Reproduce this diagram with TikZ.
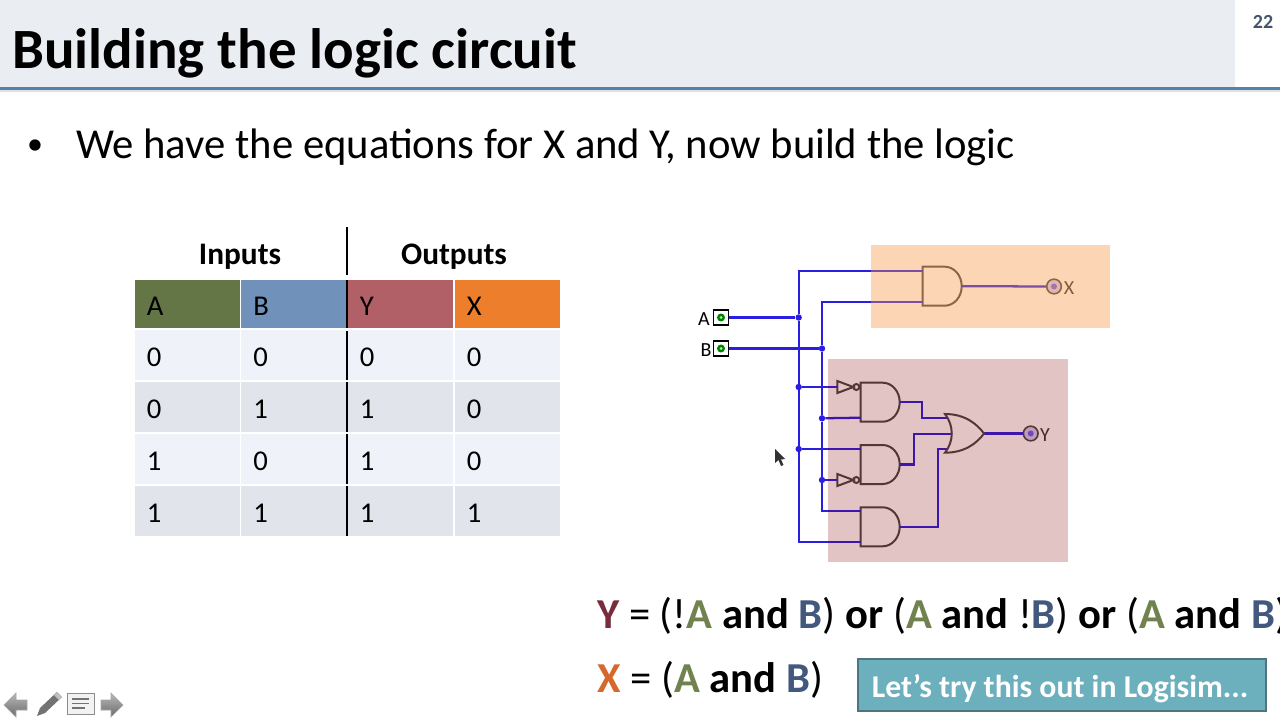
\documentclass[tikz,border=0pt]{standalone}
\usepackage{fontspec}
\setmainfont{Carlito}
\usetikzlibrary{calc}
\definecolor{bandcol}{RGB}{234,238,243}
\definecolor{rulecol}{RGB}{84,130,172}
\definecolor{numcol}{RGB}{68,84,106}
\definecolor{rowa}{RGB}{239,243,249}
\definecolor{rowb}{RGB}{225,228,234}
\definecolor{acol}{RGB}{100,117,70}
\definecolor{bcol}{RGB}{112,146,186}
\definecolor{ycol}{RGB}{178,96,104}
\definecolor{xcol}{RGB}{236,126,44}
\definecolor{eqa}{RGB}{112,130,78}
\definecolor{eqb}{RGB}{66,88,124}
\definecolor{eqy}{RGB}{120,44,60}
\definecolor{eqx}{RGB}{214,104,44}
\definecolor{wirecol}{RGB}{42,30,226}
\definecolor{btncol}{RGB}{108,176,190}
\definecolor{btnedge}{RGB}{80,116,126}
\definecolor{shadeX}{RGB}{247,150,70}
\tikzset{
  cell/.style={anchor=west,text width=60.75pt,inner xsep=9pt,inner ysep=0pt,minimum height=37.5pt,text height=19pt,text depth=2pt,font=\fontsize{21.5}{25}\selectfont},
  headcell/.style={cell,minimum height=36pt},
  headtext/.style={font=\fontsize{23.5}{28}\selectfont\bfseries},
  eqtext/.style={anchor=base west,inner sep=0pt,font=\fontsize{32}{36}\selectfont},
  wire/.style={draw=wirecol,line width=1.7pt},
  gateline/.style={draw=black!72,line width=1.5pt},
  joint/.style={circle,fill=wirecol,inner sep=0pt,minimum size=4.8pt},
  pinbox/.style={draw=black,fill=white,line width=1.1pt,inner sep=0pt,minimum size=11.5pt},
  probe/.style={circle,draw=black!72,fill=wirecol!22,line width=1.2pt,inner sep=0pt,minimum size=11pt},
  pinlabel/.style={inner sep=0pt,font=\fontsize{15}{17}\selectfont},
  navarrow/.style={top color=black!28,bottom color=black!58,draw=black!35},
}
\newcommand{\andgate}[3]{
  \draw [gateline] (#2,#3-19.5) -- (#2+22,#3-19.5) arc (-90:90:17 and 19.5) -- (#2,#3+19.5) -- cycle;
  \coordinate (#1-in1) at (#2,#3-15.5);
  \coordinate (#1-in2) at (#2,#3+15.5);
  \coordinate (#1-out) at (#2+39,#3);
}
\newcommand{\notgate}[3]{
  \draw [gateline] (#2,#3-6) -- (#2+16,#3) -- (#2,#3+6) -- cycle;
  \draw [gateline] (#2+19,#3) circle (3);
  \coordinate (#1-in) at (#2,#3);
}
\begin{document}
\begin{tikzpicture}[x=0.75pt,y=0.75pt,yscale=-1]
\useasboundingbox (0,0) rectangle (1280,720);

%title band
\fill [bandcol] (0,0) rectangle (1235,87);
\fill [black!12] (0,90) rectangle (1280,92);
\fill [rulecol] (0,87) rectangle (1280,90.5);
\node [anchor=base west,inner sep=0pt,font=\fontsize{42.7}{50}\selectfont\bfseries] (title) at (12,69) {Building the logic circuit};
\node [inner sep=0pt,text=numcol,font=\fontsize{15}{18}\selectfont\bfseries] (pagenum) at (1263,22) {22};
\node [anchor=base,inner sep=0pt,font=\fontsize{24}{30}\selectfont] (bullet) at (35,155) {•};
\node [anchor=base west,inner sep=0pt,font=\fontsize{32}{38}\selectfont] (intro) at (76,159) {We have the equations for X and Y, now build the logic};

%truth table
\node [headtext] (inputs) at (240,257) {Inputs};
\node [headtext] (outputs) at (454,257) {Outputs};
\node [headcell,fill=acol] (hA) at (134.7,304.2) {A};
\node [headcell,fill=bcol] (hB) at (241,304.2) {B};
\node [headcell,fill=ycol] (hY) at (347.5,304.2) {Y};
\node [headcell,fill=xcol] (hX) at (454.7,304.2) {X};
\foreach \r/\ya/\rowfill/\va/\vb/\vc/\vd in {1/355/rowa/0/0/0/0,2/407/rowb/0/1/1/0,3/459/rowa/1/0/1/0,4/511/rowb/1/1/1/1} {
  \node [cell,fill=\rowfill] (r\r a) at (134.7,\ya) {\va};
  \node [cell,fill=\rowfill] (r\r b) at (241,\ya) {\vb};
  \node [cell,fill=\rowfill] (r\r c) at (347.5,\ya) {\vc};
  \node [cell,fill=\rowfill] (r\r d) at (454.7,\ya) {\vd};
}
\draw [line width=1.2pt] (347,227) -- (347,275);
\draw [line width=1.2pt] (347,280) -- (347,328);
\foreach \ya/\yb in {331/380,382/432,434/484,486/536} {
  \draw [line width=1.2pt] (347,\ya) -- (347,\yb);
}

%circuit points
\node [pinbox] (inA) at (721,317.5) {};
\node [pinbox] (inB) at (721,348.5) {};
\fill [green!50!black] (inA) circle (4);
\fill [green!50!black] (inB) circle (4);
\fill [green!40] (inA) circle (1.5);
\fill [green!40] (inB) circle (1.5);
\node [joint] (jA0) at (798.7,317.5) {};
\node [joint] (jB0) at (822,348.5) {};
\node [joint] (jA1) at (798.7,387) {};
\node [joint] (jA2) at (798.7,449) {};
\node [joint] (jB1) at (822,418.3) {};
\node [joint] (jB2) at (822,480) {};
\andgate{gX}{922.7}{286.2}
\andgate{g1}{860.7}{402.2}
\andgate{g2}{860.7}{464.5}
\andgate{g3}{860.7}{526.8}
\notgate{n1}{837.3}{387}
\notgate{n2}{837.3}{480}
\coordinate (orT) at (947,418.3);
\coordinate (orM) at (951,434);
\coordinate (orB) at (948,449.3);
\coordinate (orOut) at (984,433.5);
\node [probe] (outX) at (1054,286.5) {};
\node [probe] (outY) at (1030.7,433.5) {};
\fill [wirecol!70] (outX) circle (3);
\fill [wirecol!70] (outY) circle (3);
\node [pinlabel] (lA) at (704,319.5) {A};
\node [pinlabel] (lB) at (706,350.5) {B};
\node [pinlabel,text=black!80] (lX) at (1069,288.5) {X};
\node [pinlabel,text=black!80] (lY) at (1045,435.5) {Y};

%wires
\draw [wire] (inA) -- (jA0);
\draw [wire] (inB) -- (jB0);
\draw [wire] (gX-in1) -| (jA0) -- (jA1) -- (jA2) |- (g3-in2);
\draw [wire] (gX-in2) -| (jB0) -- (jB1) -- (jB2) |- (g3-in1);
\draw [wire] (jA1) -- (n1-in);
\draw [wire] (jB2) -- (n2-in);
\draw [wire] (jB1) -- (g1-in2);
\draw [wire] (jA2) -- (g2-in1);
\draw [wire] (gX-out) -- (outX);
\draw [wire] (g1-out) -- ($(g1-out)+(22.3,0)$) |- (orT);
\draw [wire] (g2-out) -- ($(g2-out)+(14.3,0)$) |- (orM);
\draw [wire] (g3-out) -- ($(g3-out)+(38.3,0)$) |- (orB);
\draw [wire] (orOut) -- (outY);

%or gate
\draw [gateline] (945,414) .. controls (965,414) and (977,424) .. (984,433.5) .. controls (977,443) and (965,452.7) .. (945,452.7) .. controls (954,441) and (954,426) .. (945,414) -- cycle;

%shaded regions
\fill [shadeX,fill opacity=.4] (871,245) rectangle (1110,328);
\fill [red!50!black,fill opacity=.23] (828,359) rectangle (1068,562);

%cursor
\fill [black!80] (775,449) -- (775,463) -- (778.5,460) -- (781,466) -- (783.5,465) -- (781,459.5) -- (785,459) -- cycle;

%equations
\node [eqtext] (eqY) at (597,628) {\textbf{\textcolor{eqy}{Y}} = (!\textbf{\textcolor{eqa}{A} and \textcolor{eqb}{B}}) \textbf{or} (\textbf{\textcolor{eqa}{A} and} !\textbf{\textcolor{eqb}{B}}) \textbf{or} (\textbf{\textcolor{eqa}{A} and \textcolor{eqb}{B}})};
\node [eqtext] (eqX) at (597,692) {\textbf{\textcolor{eqx}{X}} = (\textbf{\textcolor{eqa}{A} and \textcolor{eqb}{B}})};

%button
\node [draw=btnedge,fill=btncol,line width=2.2pt,minimum width=306pt,minimum height=39pt,inner sep=0pt,text=white,text height=21pt,text depth=2.5pt,font=\fontsize{23.8}{28}\selectfont\bfseries] (tryit) at (1062,685) {\hspace{-3pt}Let’s try this out in Logisim...};

%slide controls
\path [navarrow] (4,705) -- (16,693) -- (16,700) -- (27,700) -- (27,710) -- (16,710) -- (16,717) -- cycle;
\fill [black!55] (37,716) -- (40,708) -- (57,692) -- (62,697) -- (45,713) -- cycle;
\fill [black!25] (57,692) -- (62,697) -- (59,700) -- (54,695) -- cycle;
\draw [black!45,fill=black!5] (67,693) rectangle (94,714);
\draw [black!55,line width=1pt] (72,699) -- (89,699) (72,703.5) -- (89,703.5) (72,708) -- (85,708);
\path [navarrow] (123,705) -- (111,693) -- (111,700) -- (101,700) -- (101,710) -- (111,710) -- (111,717) -- cycle;
\end{tikzpicture}
\end{document}
